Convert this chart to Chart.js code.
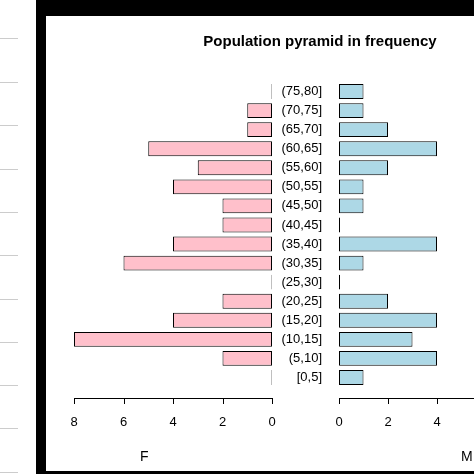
<!DOCTYPE html>
<html>
<head>
<meta charset="utf-8">
<script src="https://cdn.jsdelivr.net/npm/chart.js@4"></script>
<style>
  body { margin: 0; width: 474px; height: 474px; background: #fff; position: relative; overflow: hidden; font-family: "Liberation Sans", Arial, sans-serif; }
  canvas { position: absolute; left: 0; top: 0; }
  .tick { position: absolute; left: 0; width: 18px; height: 1px; background: #ccc; }
  #frameL { position: absolute; left: 36px; top: 0; width: 10px; height: 474px; background: #000; }
  #frameT { position: absolute; left: 36px; top: 0; width: 438px; height: 16px; background: #000; }
  #frameB { position: absolute; left: 36px; top: 471px; width: 438px; height: 3px; background: #000; }
  #title { position: absolute; left: 46px; width: 548px; top: 32px; text-align: center; font-weight: bold; font-size: 15px; }
  .lab { position: absolute; top: 448px; font-size: 14px; }
</style>
</head>
<body>
<div id="strip"></div>
<div id="frameL"></div><div id="frameT"></div><div id="frameB"></div>
<canvas id="femaleChart" width="474" height="474"></canvas>
<canvas id="maleChart" width="474" height="474"></canvas>
<div id="title">Population pyramid in frequency</div>
<div class="lab" style="left:140px">F</div>
<div class="lab" style="left:461px">M</div>
<script>
// age groups, top to bottom
const ageGroups = ["(75,80]", "(70,75]", "(65,70]", "(60,65]", "(55,60]", "(50,55]", "(45,50]", "(40,45]",
  "(35,40]", "(30,35]", "(25,30]", "(20,25]", "(15,20]", "(10,15]", "(5,10]", "[0,5]"];
const femaleCounts = [0, 1, 1, 5, 3, 4, 2, 2, 4, 6, 0, 2, 4, 8, 2, 0];
const maleCounts = [1, 1, 2, 4, 2, 1, 1, 0, 4, 1, 0, 2, 4, 3, 4, 1];
const femaleTicks = [0, 2, 4, 6, 8];
const maleTicks = [0, 2, 4];

const strip = document.getElementById("strip");
[38, 82, 125, 169, 212, 255, 299, 342, 385, 428, 472].forEach(y => {
  const d = document.createElement("div");
  d.className = "tick";
  d.style.top = y + "px";
  strip.appendChild(d);
});

const font = '13px "Liberation Sans", Arial, sans-serif';

// R-style axis: line from first to last tick, ticks pointing down
function axisPlugin(tickValues, lineEnd, drawLabels) {
  return {
    id: "rAxis",
    afterDraw(chart) {
      const ctx = chart.ctx;
      const xs = chart.scales.x;
      const y0 = chart.chartArea.bottom + 11;
      const px = tickValues.map(v => xs.getPixelForValue(v));
      ctx.save();
      ctx.strokeStyle = "#000";
      ctx.lineWidth = 1;
      ctx.beginPath();
      ctx.moveTo(Math.min(...px), y0 + 0.5);
      ctx.lineTo(lineEnd != null ? lineEnd : Math.max(...px), y0 + 0.5);
      px.forEach(p => {
        ctx.moveTo(Math.round(p) + 0.5, y0);
        ctx.lineTo(Math.round(p) + 0.5, y0 + 6);
      });
      ctx.stroke();
      ctx.fillStyle = "#000";
      ctx.font = font;
      ctx.textAlign = "center";
      ctx.textBaseline = "middle";
      tickValues.forEach((v, i) => ctx.fillText(String(v), px[i], y0 + 24));
      if (drawLabels) {
        const ys = chart.scales.y;
        ctx.textAlign = "right";
        ageGroups.forEach((g, i) => ctx.fillText(g, 322, ys.getPixelForValue(i)));
      }
      ctx.restore();
    }
  };
}

function makeChart(id, values, color, pad, max, reverse, ticks, lineEnd, drawLabels) {
  return new Chart(document.getElementById(id), {
    type: "bar",
    data: {
      labels: ageGroups,
      datasets: [{
        data: values,
        backgroundColor: color,
        borderColor: "#000",
        borderWidth: 1,
        borderSkipped: false,
        minBarLength: 1,
        barPercentage: 0.78,
        categoryPercentage: 1
      }]
    },
    options: {
      indexAxis: "y",
      responsive: false,
      animation: false,
      layout: { padding: pad },
      plugins: { legend: { display: false }, tooltip: { enabled: false } },
      scales: {
        x: { display: false, min: 0, max: max, reverse: reverse },
        y: { display: false }
      }
    },
    plugins: [axisPlugin(ticks, lineEnd, drawLabels)]
  });
}

makeChart("femaleChart", femaleCounts, "#ffc0cb",
  { left: 74, right: 202, top: 82, bottom: 87 }, 8, true, femaleTicks, null, false);
makeChart("maleChart", maleCounts, "#add8e6",
  { left: 339, right: 37, top: 82, bottom: 87 }, 4, false, maleTicks, 474, true);
</script>
</body>
</html>
